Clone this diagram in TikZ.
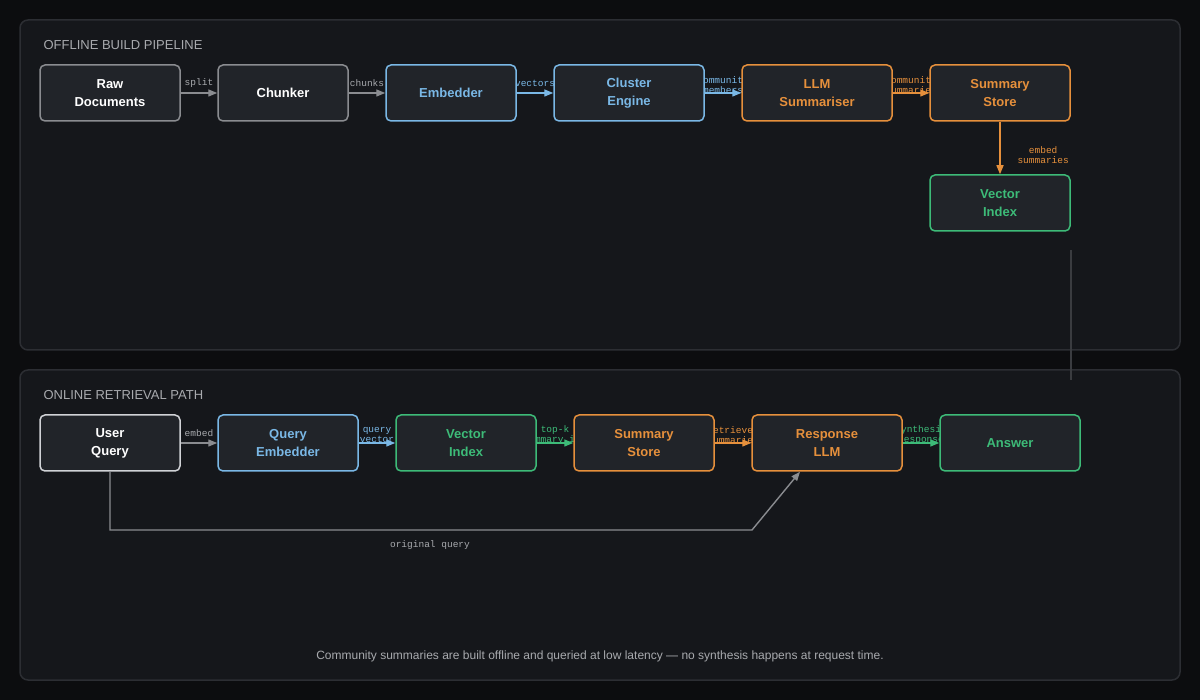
\documentclass[tikz,border=0pt]{standalone}
\usepackage{fontspec}
\setmainfont{Liberation Sans}
\setmonofont{Liberation Mono}
\usetikzlibrary{arrows.meta}
\definecolor{bgc}{HTML}{0C0D0F}
\definecolor{panel}{HTML}{15171B}
\definecolor{pline}{HTML}{2C2E33}
\definecolor{vline}{HTML}{3A3C40}
\definecolor{boxf}{HTML}{212429}
\definecolor{cblue}{HTML}{7AB8E6}
\definecolor{corange}{HTML}{E6903C}
\definecolor{cgreen}{HTML}{3DBB78}
\definecolor{cgray}{HTML}{8A8C90}
\definecolor{ctext}{HTML}{A8AAAE}
\definecolor{cwhite}{HTML}{D0D2D6}
\tikzset{
  box/.style={draw=#1,fill=boxf,rounded corners=5pt,line width=1.5pt,align=center,
    font=\bfseries\fontsize{13}{18}\selectfont,text=#1},
  lbl/.style={font=\ttfamily\fontsize{9.5}{10}\selectfont,text=#1,align=center},
  arr/.style={draw=#1,line width=1.4pt,-{Triangle[length=9pt,width=7pt]}},
}
\begin{document}
\begin{tikzpicture}[x=1pt,y=-1pt]
\fill[bgc] (0,0) rectangle (1200,700);
\draw[pline,fill=panel,rounded corners=8pt,line width=1.5pt] (20,20) rectangle (1180,350);
\draw[pline,fill=panel,rounded corners=8pt,line width=1.5pt] (20,370) rectangle (1180,680);
\node[anchor=west,text=ctext,font=\fontsize{13}{14}\selectfont] (t1) at (40,45) {OFFLINE BUILD PIPELINE};
\node[anchor=west,text=ctext,font=\fontsize{13}{14}\selectfont] (t2) at (40,395) {ONLINE RETRIEVAL PATH};
\draw[vline,line width=1.2pt] (1071,250) -- (1071,380);
% top row labels (drawn first, boxes hide overflow)
\node[lbl=ctext] at (199,83) {split};
\node[lbl=ctext] at (367,83) {chunks};
\node[lbl=cblue] at (535,83) {vectors};
\node[lbl=cblue] at (723,85) {community\\members};
\node[lbl=corange] at (911,85) {community\\summaries};
\node[lbl=corange,anchor=west] at (1014,155) {embed\\summaries};
% bottom row labels
\node[lbl=ctext] at (199,433) {embed};
\node[lbl=cblue] at (377,435) {query\\vector};
\node[lbl=cgreen] at (555,435) {top-k\\summary ids};
\node[lbl=corange] at (733,435) {retrieved\\summaries};
\node[lbl=cgreen] at (921,435) {synthesis\\response};
\node[lbl=ctext] (oq) at (430,545) {original query};
% top row
\node[box=cgray,minimum width=140,minimum height=56,text=white] (raw) at (110,93) {Raw\\Documents};
\node[box=cgray,minimum width=130,minimum height=56,text=white] (chunk) at (283,93) {Chunker};
\node[box=cblue,minimum width=130,minimum height=56] (emb) at (451,93) {Embedder};
\node[box=cblue,minimum width=150,minimum height=56] (clus) at (629,93) {Cluster\\Engine};
\node[box=corange,minimum width=150,minimum height=56] (llm) at (817,93) {LLM\\Summariser};
\node[box=corange,minimum width=140,minimum height=56] (store) at (1000,93) {Summary\\Store};
\node[box=cgreen,minimum width=140,minimum height=56] (vidx) at (1000,203) {Vector\\Index};
\draw[arr=cgray] (raw) -- (chunk);
\draw[arr=cgray] (chunk) -- (emb);
\draw[arr=cblue] (emb) -- (clus);
\draw[arr=cblue] (clus) -- (llm);
\draw[arr=corange] (llm) -- (store);
\draw[arr=corange] (store) -- (vidx);
% bottom row
\node[box=cwhite,minimum width=140,minimum height=56,text=white] (uq) at (110,443) {User\\Query};
\node[box=cblue,minimum width=140,minimum height=56] (qemb) at (288,443) {Query\\Embedder};
\node[box=cgreen,minimum width=140,minimum height=56] (vidx2) at (466,443) {Vector\\Index};
\node[box=corange,minimum width=140,minimum height=56] (store2) at (644,443) {Summary\\Store};
\node[box=corange,minimum width=150,minimum height=56] (resp) at (827,443) {Response\\LLM};
\node[box=cgreen,minimum width=140,minimum height=56] (ans) at (1010,443) {Answer};
\draw[arr=cgray] (uq) -- (qemb);
\draw[arr=cblue] (qemb) -- (vidx2);
\draw[arr=cgreen] (vidx2) -- (store2);
\draw[arr=corange] (store2) -- (resp);
\draw[arr=cgreen] (resp) -- (ans);
\coordinate (c1) at (110,530);
\coordinate (c2) at (752,530);
\draw[arr=cgray] (uq.south) -- (c1) -- (c2) -- ([xshift=-27pt]resp.south);
\node[text=ctext,font=\fontsize{12}{14}\selectfont] (note) at (600,656) {Community summaries are built offline and queried at low latency — no synthesis happens at request time.};
\end{tikzpicture}
\end{document}
